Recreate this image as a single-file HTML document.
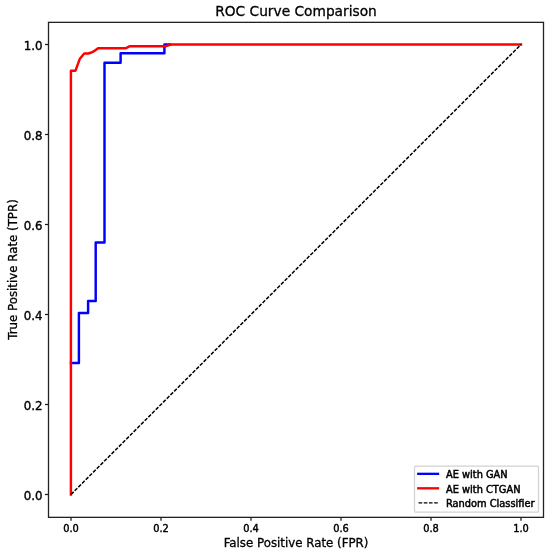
<!DOCTYPE html>
<html>
<head>
<meta charset="utf-8">
<title>ROC Curve Comparison</title>
<style>
html,body{margin:0;padding:0;background:#fff;width:550px;height:556px;overflow:hidden}
svg{display:block}
text{font-family:"DejaVu Sans","Liberation Sans",sans-serif;fill:#000;stroke:#000}
.t3{stroke-width:0.3px}
</style>
</head>
<body>
<svg width="550" height="556" viewBox="0 0 550 556">
<rect x="0" y="0" width="550" height="556" fill="#fff"/>

<!-- data curves -->
<g fill="none" stroke-linejoin="round" stroke-linecap="square">
<polyline stroke="#0000ff" stroke-width="2.45" points="71,362.9 78.9,362.9 78.9,313.0 88.1,313.0 88.1,301.0 95.7,301.0 95.7,242.45 104.5,242.45 104.5,62.7 120.6,62.7 120.6,53.15 164.4,53.15 164.4,44.5 170,44.5"/>
<polyline stroke="#ff0000" stroke-width="2.45" points="70.9,494.5 70.9,70.7 75.5,70.7 79.9,58.7 84.2,53.4 88,53.5 91.5,52.5 94,51.2 98,48.3 125.5,48.3 129.5,46.3 165.5,46.3 170.8,44.5 521,44.5"/>
</g>
<line x1="71" y1="494.5" x2="521" y2="44.5" stroke="#000" stroke-width="1.5" stroke-dasharray="3.72 1.49"/>

<!-- spines -->
<g stroke="#222" stroke-width="1.3" fill="none">
<rect x="48.5" y="22.35" width="495" height="495"/>
</g>

<!-- ticks -->
<g stroke="#1a1a1a" stroke-width="1.25">
<line x1="71" y1="517.3" x2="71" y2="520.8"/>
<line x1="161" y1="517.3" x2="161" y2="520.8"/>
<line x1="251" y1="517.3" x2="251" y2="520.8"/>
<line x1="341" y1="517.3" x2="341" y2="520.8"/>
<line x1="431" y1="517.3" x2="431" y2="520.8"/>
<line x1="521" y1="517.3" x2="521" y2="520.8"/>
<line x1="45" y1="494.5" x2="48.5" y2="494.5"/>
<line x1="45" y1="404.5" x2="48.5" y2="404.5"/>
<line x1="45" y1="314.5" x2="48.5" y2="314.5"/>
<line x1="45" y1="224.5" x2="48.5" y2="224.5"/>
<line x1="45" y1="134.5" x2="48.5" y2="134.5"/>
<line x1="45" y1="44.5" x2="48.5" y2="44.5"/>
</g>

<!-- x tick labels -->
<g font-size="9.82" text-anchor="middle" style="stroke-width:0.42px">
<text x="71" y="531.5">0.0</text>
<text x="161" y="531.5">0.2</text>
<text x="251" y="531.5">0.4</text>
<text x="341" y="531.5">0.6</text>
<text x="431" y="531.5">0.8</text>
<text x="521" y="531.5">1.0</text>
</g>
<!-- y tick labels -->
<g font-size="11.8" text-anchor="end" style="stroke-width:0.38px">
<text x="42.4" y="499.9">0.0</text>
<text x="42.4" y="409.9">0.2</text>
<text x="42.4" y="319.9">0.4</text>
<text x="42.4" y="229.9">0.6</text>
<text x="42.4" y="139.9">0.8</text>
<text x="42.4" y="49.9">1.0</text>
</g>

<!-- labels -->
<text class="t3" x="296" y="546.6" font-size="11.8" text-anchor="middle">False Positive Rate (FPR)</text>
<text class="t3" transform="translate(17,269.5) rotate(-90)" font-size="11.8" text-anchor="middle">True Positive Rate (TPR)</text>
<text class="t3" x="296" y="16.4" font-size="13.75" text-anchor="middle">ROC Curve Comparison</text>

<!-- legend -->
<rect x="414.5" y="466.0" width="124.0" height="46.2" rx="1.3" ry="1.3" fill="#fff" fill-opacity="0.8" stroke="#d2d2d2" stroke-width="1.25"/>
<line x1="418.3" y1="473.85" x2="438" y2="473.85" stroke="#0000ff" stroke-width="2.35" stroke-linecap="square"/>
<line x1="418.3" y1="488.3" x2="438" y2="488.3" stroke="#ff0000" stroke-width="2.35" stroke-linecap="square"/>
<line x1="418.56" y1="502.85" x2="438.2" y2="502.85" stroke="#000" stroke-width="1.4" stroke-dasharray="3.63 1.57"/>
<g font-size="9.82" style="stroke-width:0.48px">
<text x="446" y="478.2">AE with GAN</text>
<text x="446" y="492.7">AE with CTGAN</text>
<text x="446" y="507.2">Random Classifier</text>
</g>
</svg>
</body>
</html>
